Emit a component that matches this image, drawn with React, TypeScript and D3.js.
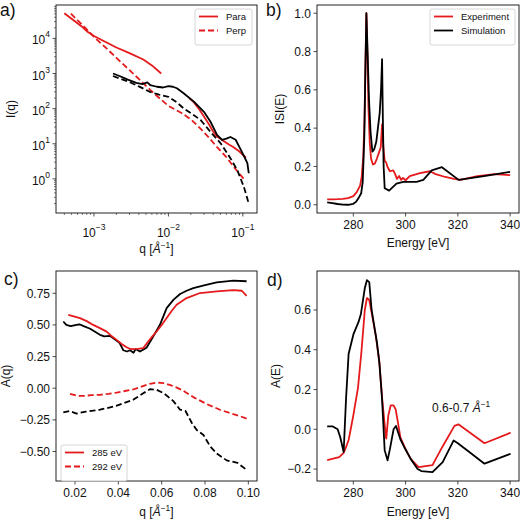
import React from "react";
import * as d3 from "d3";

const FONT = "'Liberation Sans', Arial, Helvetica, sans-serif";
const RED = "#e41a1c";
const INK = "#000000";
const AX = "#222222";

// ---------- Panel a: I(q), log-log ----------
const paraLowQ = [4.0e-4, 5e-4, 6e-4, 7e-4, 8e-4, 1e-3, 1.5e-3, 2e-3, 3e-3, 4.6e-3, 6e-3, 8e-3];
const paraLowI = [5.2e4, 3.6e4, 2.7e4, 2.1e4, 1.6e4, 1.17e4, 7.5e3, 5.5e3, 3.8e3, 2.5e3, 1.7e3, 1.0e3];
const paraHighQ = [0.019, 0.022, 0.026, 0.03, 0.035, 0.04, 0.045, 0.055, 0.065, 0.075, 0.09, 0.11];
const paraHighI = [200, 150, 95, 60, 36, 22, 16, 12, 9.5, 8, 6, 4];
const perpQ = [4.9e-4, 6e-4, 7e-4, 8e-4, 1e-3, 1.5e-3, 2e-3, 3e-3, 4e-3, 5.7e-3, 8e-3, 1e-2, 0.015, 0.02, 0.027, 0.035, 0.045, 0.06, 0.0756, 0.09, 0.103];
const perpI = [5.1e4, 3.3e4, 2.4e4, 1.8e4, 1.1e4, 5e3, 2.8e3, 1.25e3, 700, 340, 180, 120, 75, 50, 27, 15, 8, 4.2, 2.2, 1.4, 1.0];
const simParaQ = [1.8e-3, 2.2e-3, 2.8e-3, 3.7e-3, 4.5e-3, 5.2e-3, 5.7e-3, 7e-3, 8.5e-3, 1e-2, 1.15e-2, 1.3e-2, 1.6e-2, 2.2e-2, 3e-2, 3.66e-2, 4.5e-2, 5.27e-2, 6e-2, 6.8e-2, 8e-2, 9.4e-2, 0.105, 0.115, 0.12];
const simParaI = [1000, 850, 680, 540, 500, 560, 470, 420, 400, 440, 420, 380, 275, 158, 81, 43, 18, 13, 14, 15.6, 13, 6.7, 4.2, 2.8, 1.45];
const simPerpQ = [1.8e-3, 2.3e-3, 3e-3, 4e-3, 5.66e-3, 7.5e-3, 1e-2, 1.3e-2, 1.6e-2, 2.1e-2, 2.7e-2, 3.66e-2, 5e-2, 6.8e-2, 8.4e-2, 0.103, 0.12];
const simPerpI = [850, 700, 570, 430, 300, 250, 218, 150, 102, 70, 48, 22, 10.5, 3.9, 1.8, 0.6, 0.2];
const aXExps = [-3, -2, -1];
const aYExps = [0, 1, 2, 3, 4];

// ---------- Panel b: ISI(E) ----------
const expE = [270, 272, 274, 276, 278, 280, 281.3, 282.6, 283.2, 283.8, 284.3, 284.6, 285, 285.4, 285.8, 286.3, 286.8, 287.5, 288.2, 289, 290, 290.5, 291, 291.5, 292, 292.6, 293, 294, 295.3, 296, 296.7, 297.5, 298.3, 299, 300, 301.6, 305.5, 309.3, 311.5, 315.2, 318.5, 321, 327.5, 334, 340];
const expS = [0.028, 0.028, 0.029, 0.031, 0.035, 0.045, 0.066, 0.1, 0.146, 0.25, 0.45, 0.7, 1.0, 0.78, 0.5, 0.32, 0.24, 0.21, 0.215, 0.24, 0.28, 0.3, 0.42, 0.3, 0.23, 0.22, 0.2, 0.175, 0.18, 0.16, 0.135, 0.15, 0.13, 0.14, 0.128, 0.15, 0.165, 0.175, 0.16, 0.145, 0.135, 0.13, 0.15, 0.16, 0.155];
const simE = [270, 272, 274, 276, 278, 280, 281, 282, 283, 283.6, 284.2, 284.6, 285, 285.5, 286, 286.6, 287.3, 288, 288.8, 290.1, 290.6, 291, 291.3, 291.6, 292, 293.7, 296.5, 299.1, 304.2, 306.8, 310, 313.9, 320.3, 330, 340];
const simS = [0.012, 0.008, 0.004, 0.001, 0.0, 0.005, 0.015, 0.035, 0.06, 0.12, 0.35, 0.7, 1.0, 0.78, 0.55, 0.38, 0.277, 0.29, 0.33, 0.48, 0.6, 0.76, 0.45, 0.2, 0.086, 0.074, 0.11, 0.12, 0.12, 0.13, 0.18, 0.196, 0.13, 0.15, 0.172];
const bXTicks = [280, 300, 320, 340];
const bYTicks = [0, 0.2, 0.4, 0.6, 0.8, 1.0];

// ---------- Panel c: A(q) ----------
const sim285Q = [0.0146, 0.016, 0.018, 0.0207, 0.022, 0.024, 0.027, 0.0315, 0.0335, 0.0361, 0.038, 0.0405, 0.0423, 0.044, 0.0454, 0.047, 0.048, 0.05, 0.051, 0.053, 0.0561, 0.0592, 0.0623, 0.0655, 0.0685, 0.0715, 0.0746, 0.08, 0.0854, 0.0931, 0.0992];
const sim285A = [0.527, 0.5, 0.49, 0.5, 0.505, 0.49, 0.47, 0.422, 0.41, 0.414, 0.39, 0.36, 0.3, 0.29, 0.3, 0.28, 0.31, 0.29, 0.3, 0.32, 0.409, 0.501, 0.633, 0.7, 0.744, 0.77, 0.791, 0.815, 0.836, 0.85, 0.845];
const exp285Q = [0.0169, 0.019, 0.0223, 0.0254, 0.0284, 0.0315, 0.0346, 0.037, 0.0392, 0.0415, 0.0438, 0.0455, 0.0469, 0.049, 0.0515, 0.0538, 0.0557, 0.0577, 0.06, 0.0623, 0.0646, 0.0669, 0.0715, 0.0777, 0.0854, 0.0931, 0.097, 0.0992];
const exp285A = [0.58, 0.57, 0.554, 0.53, 0.5, 0.475, 0.447, 0.41, 0.382, 0.35, 0.324, 0.31, 0.309, 0.31, 0.317, 0.369, 0.41, 0.448, 0.5, 0.554, 0.61, 0.659, 0.712, 0.752, 0.765, 0.775, 0.77, 0.73];
const exp292Q = [0.0177, 0.021, 0.0238, 0.0275, 0.0315, 0.0355, 0.0392, 0.043, 0.0469, 0.051, 0.0546, 0.0577, 0.0608, 0.064, 0.067, 0.07, 0.0746, 0.0808, 0.0869, 0.0931, 0.096, 0.0992];
const exp292A = [-0.045, -0.06, -0.061, -0.055, -0.052, -0.045, -0.035, -0.022, -0.01, 0.015, 0.035, 0.045, 0.04, 0.025, 0.005, -0.02, -0.07, -0.125, -0.17, -0.205, -0.22, -0.24];
const sim292Q = [0.0146, 0.0175, 0.0207, 0.025, 0.0315, 0.039, 0.047, 0.0515, 0.0546, 0.0577, 0.061, 0.0653, 0.0685, 0.071, 0.074, 0.0762, 0.0793, 0.0824, 0.0854, 0.09, 0.095, 0.0992];
const sim292A = [-0.19, -0.18, -0.2, -0.185, -0.17, -0.14, -0.09, -0.04, -0.008, -0.013, -0.04, -0.1, -0.17, -0.18, -0.277, -0.33, -0.37, -0.46, -0.515, -0.57, -0.59, -0.645];
const cXTicks = [0.02, 0.04, 0.06, 0.08, 0.1];
const cYTicks = [-0.5, -0.25, 0, 0.25, 0.5, 0.75];

// ---------- Panel d: A(E) ----------
const expDE = [270, 274.6, 276.3, 277.2, 278.2, 279, 280, 281.8, 283.1, 284.4, 285.2, 286.1, 287.3, 288.6, 289.9, 291.1, 292.4, 292.6, 293.4, 294.3, 295.4, 296.2, 297, 298, 300, 302, 305, 310.3, 314, 318.7, 320.2, 330.2, 340.2];
const expDA = [-0.155, -0.14, -0.119, -0.09, -0.054, 0.0, 0.07, 0.21, 0.39, 0.6, 0.66, 0.65, 0.565, 0.47, 0.346, 0.146, -0.03, -0.047, 0.07, 0.12, 0.12, 0.1, 0.04, -0.04, -0.1, -0.15, -0.19, -0.18, -0.09, 0.017, 0.025, -0.07, -0.017];
const simDE = [270, 272, 274, 275, 276.3, 277.2, 278.2, 280.1, 282, 282.9, 284.4, 285.2, 286.1, 287, 288, 289, 290, 291, 292, 293.1, 294, 295.4, 296.3, 297, 298, 299.5, 302, 304.6, 306, 310.3, 314.2, 318.4, 320, 325, 330.2, 340.2];
const simDA = [0.015, 0.015, 0.0, -0.04, -0.114, 0.15, 0.38, 0.48, 0.54, 0.58, 0.71, 0.75, 0.74, 0.6, 0.52, 0.44, 0.33, 0.15, -0.106, -0.156, -0.1, 0.0, 0.017, -0.01, -0.05, -0.09, -0.15, -0.2, -0.21, -0.215, -0.165, -0.056, -0.07, -0.12, -0.173, -0.123];
const dXTicks = [280, 300, 320, 340];
const dYTicks = [-0.2, 0, 0.2, 0.4, 0.6];

type Pt = [number, number];
const zip = (xs: number[], ys: number[]): Pt[] => xs.map((x, i) => [x, ys[i]]);
const fmt = (d: number, n: number) => (d < 0 ? "\u2212" : "") + Math.abs(d).toFixed(n);

type Box = { x0: number; x1: number; y0: number; y1: number };
const A: Box = { x0: 56, x1: 257, y0: 5, y1: 213 };
const B: Box = { x0: 317, x1: 519, y0: 5, y1: 213 };
const C: Box = { x0: 56, x1: 257, y0: 271, y1: 481 };
const D: Box = { x0: 317, x1: 519, y0: 271, y1: 481 };

function Path({ pts, x, y, color, dash }: { pts: Pt[]; x: any; y: any; color: string; dash?: boolean }) {
  const gen = d3.line<Pt>().x((d) => x(d[0])).y((d) => y(d[1]));
  return (
    <path d={gen(pts) || ""} fill="none" stroke={color} strokeWidth={1.8}
      strokeDasharray={dash ? "6,3" : undefined} strokeLinejoin="round" />
  );
}

function FrameRect({ b }: { b: Box }) {
  return <rect x={b.x0} y={b.y0} width={b.x1 - b.x0} height={b.y1 - b.y0} fill="none" stroke={AX} strokeWidth={1} />;
}

function XTicks({ scale, ticks, dec, b }: any) {
  return (
    <g>
      {ticks.map((t: number) => (
        <g key={t}>
          <line x1={scale(t)} x2={scale(t)} y1={b.y1} y2={b.y1 + 3.5} stroke={AX} strokeWidth={0.8} />
          <text x={scale(t)} y={b.y1 + 16} textAnchor="middle" fontSize={12}>{fmt(t, dec)}</text>
        </g>
      ))}
    </g>
  );
}

function YTicks({ scale, ticks, dec, b }: any) {
  return (
    <g>
      {ticks.map((t: number) => (
        <g key={t}>
          <line x1={b.x0 - 3.5} x2={b.x0} y1={scale(t)} y2={scale(t)} stroke={AX} strokeWidth={0.8} />
          <text x={b.x0 - 6} y={scale(t) + 4.3} textAnchor="end" fontSize={12}>{fmt(t, dec)}</text>
        </g>
      ))}
    </g>
  );
}

function minorLog(domain: number[]) {
  const out: number[] = [];
  const lo = Math.floor(Math.log10(domain[0]));
  const hi = Math.ceil(Math.log10(domain[1]));
  for (let k = lo; k <= hi; k++) {
    for (let m = 2; m <= 9; m++) {
      const v = m * Math.pow(10, k);
      if (v >= domain[0] && v <= domain[1]) out.push(v);
    }
  }
  return out;
}

const expLabel = (e: number) => (e < 0 ? "\u2212" + Math.abs(e) : String(e));

function Legend({ x, y, w, items }: { x: number; y: number; w: number; items: { label: string; color: string; dash?: boolean }[] }) {
  const h = 8 + items.length * 14;
  return (
    <g>
      <rect x={x} y={y} width={w} height={h} rx={2} fill="white" fillOpacity={0.85} stroke="#cccccc" strokeWidth={0.8} />
      {items.map((it, i) => {
        const cy = y + 7.5 + i * 14;
        return (
          <g key={it.label}>
            <line x1={x + 4} x2={x + 23} y1={cy} y2={cy} stroke={it.color} strokeWidth={1.8} strokeDasharray={it.dash ? "6,3" : undefined} />
            <text x={x + 31} y={cy + 3.4} fontSize={9.5}>{it.label}</text>
          </g>
        );
      })}
    </g>
  );
}

function AngLabel({ x, y, prefix, suffix, size = 12, anchor = "middle" }: any) {
  return (
    <text x={x} y={y} textAnchor={anchor} fontSize={size}>
      {prefix}
      <tspan fontStyle="italic">Å</tspan>
      <tspan dy={-5} fontSize={size * 0.7}>{"\u22121"}</tspan>
      <tspan dy={5}>{suffix}</tspan>
    </text>
  );
}

export default function App() {
  // Panel a scales
  const ax = d3.scaleLog().domain([Math.pow(10, -3.51), Math.pow(10, -0.81)]).range([A.x0, A.x1]);
  const ay = d3.scaleLog().domain([Math.pow(10, -0.97), Math.pow(10, 4.95)]).range([A.y1, A.y0]);
  const bx = d3.scaleLinear().domain([266.1, 343.4]).range([B.x0, B.x1]);
  const by = d3.scaleLinear().domain([-0.043, 1.043]).range([B.y1, B.y0]);
  const cx = d3.scaleLinear().domain([0.01123, 0.104]).range([C.x0, C.x1]);
  const cy = d3.scaleLinear().domain([-0.733, 0.926]).range([C.y1, C.y0]);
  const dx = d3.scaleLinear().domain([266.1, 343.4]).range([D.x0, D.x1]);
  const dy = d3.scaleLinear().domain([-0.26, 0.796]).range([D.y1, D.y0]);

  const axMinor = minorLog(ax.domain());
  const ayMinor = minorLog(ay.domain());

  return (
    <svg width={520} height={520} style={{ position: "absolute", left: 0, top: 0, background: "white" }}
      fontFamily={FONT} fill="#111">
      <rect x={0} y={0} width={520} height={520} fill="white" />

      {/* ---------- Panel a ---------- */}
      <g>
        <Path pts={zip(perpQ, perpI)} x={ax} y={ay} color={RED} dash />
        <Path pts={zip(simPerpQ, simPerpI)} x={ax} y={ay} color={INK} dash />
        <Path pts={zip(paraLowQ, paraLowI)} x={ax} y={ay} color={RED} />
        <Path pts={zip(paraHighQ, paraHighI)} x={ax} y={ay} color={RED} />
        <Path pts={zip(simParaQ, simParaI)} x={ax} y={ay} color={INK} />
        <FrameRect b={A} />
        {axMinor.map((v) => (
          <line key={"axm" + v} x1={ax(v)} x2={ax(v)} y1={A.y1} y2={A.y1 + 2} stroke={AX} strokeWidth={0.6} />
        ))}
        {ayMinor.map((v) => (
          <line key={"aym" + v} x1={A.x0 - 2} x2={A.x0} y1={ay(v)} y2={ay(v)} stroke={AX} strokeWidth={0.6} />
        ))}
        {aXExps.map((e) => {
          const px = ax(Math.pow(10, e));
          return (
            <g key={"axe" + e}>
              <line x1={px} x2={px} y1={A.y1} y2={A.y1 + 3.5} stroke={AX} strokeWidth={0.8} />
              <text x={px} y={A.y1 + 24} textAnchor="middle" fontSize={12}>
                10<tspan dy={-7.5} fontSize={8.5}>{expLabel(e)}</tspan>
              </text>
            </g>
          );
        })}
        {aYExps.map((e) => {
          const py = ay(Math.pow(10, e));
          return (
            <g key={"aye" + e}>
              <line x1={A.x0 - 3.5} x2={A.x0} y1={py} y2={py} stroke={AX} strokeWidth={0.8} />
              <text x={A.x0 - 6} y={py + 6} textAnchor="end" fontSize={12}>
                10<tspan dy={-7} fontSize={8.5}>{expLabel(e)}</tspan>
              </text>
            </g>
          );
        })}
        <AngLabel x={(A.x0 + A.x1) / 2} y={253} prefix="q [" suffix="]" />
        <text transform={`translate(15,${(A.y0 + A.y1) / 2}) rotate(-90)`} textAnchor="middle" fontSize={12}>I(q)</text>
        <Legend x={195} y={9} w={57} items={[{ label: "Para", color: RED }, { label: "Perp", color: RED, dash: true }]} />
        <text x={0} y={16} fontSize={17.5}>a)</text>
      </g>

      {/* ---------- Panel b ---------- */}
      <g>
        <Path pts={zip(expE, expS)} x={bx} y={by} color={RED} />
        <Path pts={zip(simE, simS)} x={bx} y={by} color={INK} />
        <FrameRect b={B} />
        <XTicks scale={bx} ticks={bXTicks} dec={0} b={B} />
        <YTicks scale={by} ticks={bYTicks} dec={1} b={B} />
        <text x={(B.x0 + B.x1) / 2} y={247} textAnchor="middle" fontSize={12}>Energy [eV]</text>
        <text transform={`translate(284,${(B.y0 + B.y1) / 2}) rotate(-90)`} textAnchor="middle" fontSize={12}>ISI(E)</text>
        <Legend x={430} y={9} w={85} items={[{ label: "Experiment", color: RED }, { label: "Simulation", color: INK }]} />
        <text x={266} y={16} fontSize={17.5}>b)</text>
      </g>

      {/* ---------- Panel c ---------- */}
      <g>
        <Path pts={zip(sim285Q, sim285A)} x={cx} y={cy} color={INK} />
        <Path pts={zip(exp285Q, exp285A)} x={cx} y={cy} color={RED} />
        <Path pts={zip(exp292Q, exp292A)} x={cx} y={cy} color={RED} dash />
        <Path pts={zip(sim292Q, sim292A)} x={cx} y={cy} color={INK} dash />
        <FrameRect b={C} />
        <XTicks scale={cx} ticks={cXTicks} dec={2} b={C} />
        <YTicks scale={cy} ticks={cYTicks} dec={2} b={C} />
        <AngLabel x={(C.x0 + C.x1) / 2} y={516} prefix="q [" suffix="]" />
        <text transform={`translate(10,${(C.y0 + C.y1) / 2}) rotate(-90)`} textAnchor="middle" fontSize={12}>A(q)</text>
        <Legend x={61} y={445} w={66} items={[{ label: "285 eV", color: RED }, { label: "292 eV", color: RED, dash: true }]} />
        <text x={4} y={285} fontSize={17.5}>c)</text>
      </g>

      {/* ---------- Panel d ---------- */}
      <g>
        <Path pts={zip(expDE, expDA)} x={dx} y={dy} color={RED} />
        <Path pts={zip(simDE, simDA)} x={dx} y={dy} color={INK} />
        <FrameRect b={D} />
        <XTicks scale={dx} ticks={dXTicks} dec={0} b={D} />
        <YTicks scale={dy} ticks={dYTicks} dec={1} b={D} />
        <text x={(D.x0 + D.x1) / 2} y={516} textAnchor="middle" fontSize={12}>Energy [eV]</text>
        <text transform={`translate(280,${(D.y0 + D.y1) / 2}) rotate(-90)`} textAnchor="middle" fontSize={12}>A(E)</text>
        <AngLabel x={432} y={412} prefix="0.6-0.7 " suffix="" anchor="start" />
        <text x={267} y={286} fontSize={17.5}>d)</text>
      </g>
    </svg>
  );
}
